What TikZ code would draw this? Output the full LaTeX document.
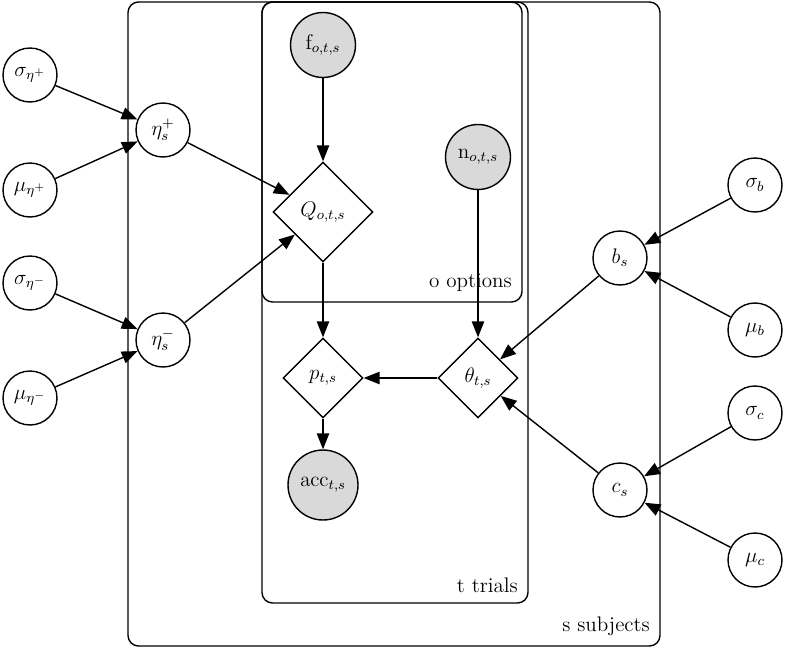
\documentclass[tikz,border=0pt]{standalone}
\usetikzlibrary{shapes.geometric,arrows.meta}
\begin{document}
\begin{tikzpicture}[x=0.02cm,y=-0.02cm,font=\large,
  lat/.style={circle,draw,thick,minimum size=1.08cm,inner sep=0pt,fill=white},
  obs/.style={lat,fill=gray!30,minimum size=1.3cm},
  det/.style={diamond,draw,thick,inner sep=0pt,fill=white,aspect=1},
  plate/.style={draw,thick,rounded corners=6pt},
  arr/.style={-{Triangle[length=9pt,width=7pt]},thick}]
\useasboundingbox (0,0) rectangle (785,649);
\draw[plate] (128,2) rectangle (660,646);
\draw[plate] (262,2) rectangle (528,603);
\draw[plate] (262,2) rectangle (522,302);
\node[anchor=south east] (lo) at (518,298) {o options};
\node[anchor=south east] (lt) at (524,599) {t trials};
\node[anchor=south east] (ls) at (656,642) {s subjects};
\node[lat] (sep) at (30,75) {$\sigma_{\eta^+}$};
\node[lat] (ep) at (163,130) {$\eta^+_s$};
\node[lat] (mep) at (30,190) {$\mu_{\eta^+}$};
\node[lat] (sem) at (30,283) {$\sigma_{\eta^-}$};
\node[lat] (em) at (163,340) {$\eta^-_s$};
\node[lat] (mem) at (30,398) {$\mu_{\eta^-}$};
\node[obs] (f) at (323,45) {$\mathrm{f}_{o,t,s}$};
\node[det,minimum size=2cm] (Q) at (323,212) {$Q_{o,t,s}$};
\node[obs] (n) at (478,157) {$\mathrm{n}_{o,t,s}$};
\node[det,minimum size=1.6cm] (p) at (323,378) {$p_{t,s}$};
\node[det,minimum size=1.6cm] (th) at (478,378) {$\theta_{t,s}$};
\node[obs,minimum size=1.4cm] (acc) at (323,485) {$\mathrm{acc}_{t,s}$};
\node[lat] (b) at (620,258) {$b_s$};
\node[lat] (sb) at (755,185) {$\sigma_b$};
\node[lat] (mb) at (755,330) {$\mu_b$};
\node[lat] (c) at (620,490) {$c_s$};
\node[lat] (sc) at (755,413) {$\sigma_c$};
\node[lat] (mc) at (755,560) {$\mu_c$};
\draw[arr] (sep)--(ep); \draw[arr] (mep)--(ep);
\draw[arr] (sem)--(em); \draw[arr] (mem)--(em);
\draw[arr] (ep)--(Q); \draw[arr] (em)--(Q);
\draw[arr] (f)--(Q); \draw[arr] (Q)--(p);
\draw[arr] (n)--(th); \draw[arr] (th)--(p); \draw[arr] (p)--(acc);
\draw[arr] (b)--(th); \draw[arr] (c)--(th);
\draw[arr] (sb)--(b); \draw[arr] (mb)--(b);
\draw[arr] (sc)--(c); \draw[arr] (mc)--(c);
\end{tikzpicture}
\end{document}
